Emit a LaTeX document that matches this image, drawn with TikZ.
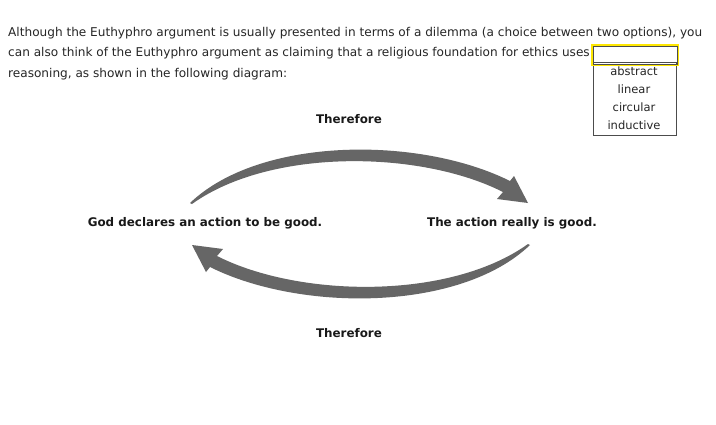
\documentclass[tikz,border=0pt]{standalone}
\usepackage{fontspec}
\setmainfont{DejaVu Sans}
\begin{document}
\begin{tikzpicture}[x=1pt,y=-1pt,
  txt/.style={anchor=west,inner sep=0pt,font=\fontsize{12.1}{14}\selectfont,text=black!85},
  lab/.style={inner sep=0pt,font=\fontsize{11.9}{13}\selectfont\bfseries,text=black!90},
  opt/.style={inner sep=0pt,font=\fontsize{11.5}{13}\selectfont,text=black!85},
  arr/.style={fill=black!60,draw=none}]
\useasboundingbox (0,0) rectangle (716,424);
\fill[white] (0,0) rectangle (716,424);
\node[txt] (l1) at (8,33) {Although the Euthyphro argument is usually presented in terms of a dilemma (a choice between two options), you};
\node[txt] (l2) at (8,53) {can also think of the Euthyphro argument as claiming that a religious foundation for ethics uses};
\node[txt] (l3) at (8,74) {reasoning, as shown in the following diagram:};
\draw[black!70,fill=white] (593,62) rectangle (676,135);
\draw[yellow!90!orange,line width=2pt] (592,45) rectangle (678,65);
\draw[black!70] (593,46) rectangle (677,64);
\node[opt] (o1) at (634,71) {abstract};
\node[opt] (o2) at (634,89) {linear};
\node[opt] (o3) at (634,107) {circular};
\node[opt] (o4) at (634,125) {inductive};
\node[lab] (t1) at (349,119) {Therefore};
\node[lab] (t2) at (349,333) {Therefore};
\node[lab] (a) at (205,223) {God declares an action to be good.};
\node[lab] (b) at (512,223) {The action really is good.};
\def\arrowshape{(190,203) .. controls (260,136) and (420,136) .. (510,181)
  -- (514,176) -- (528,203) -- (497,199) -- (503,192)
  .. controls (420,150) and (270,148) .. (192,204) -- cycle}
\fill[arr] \arrowshape;
\begin{scope}[rotate around={180:(360,224)}]
\fill[arr] \arrowshape;
\end{scope}
\end{tikzpicture}
\end{document}
